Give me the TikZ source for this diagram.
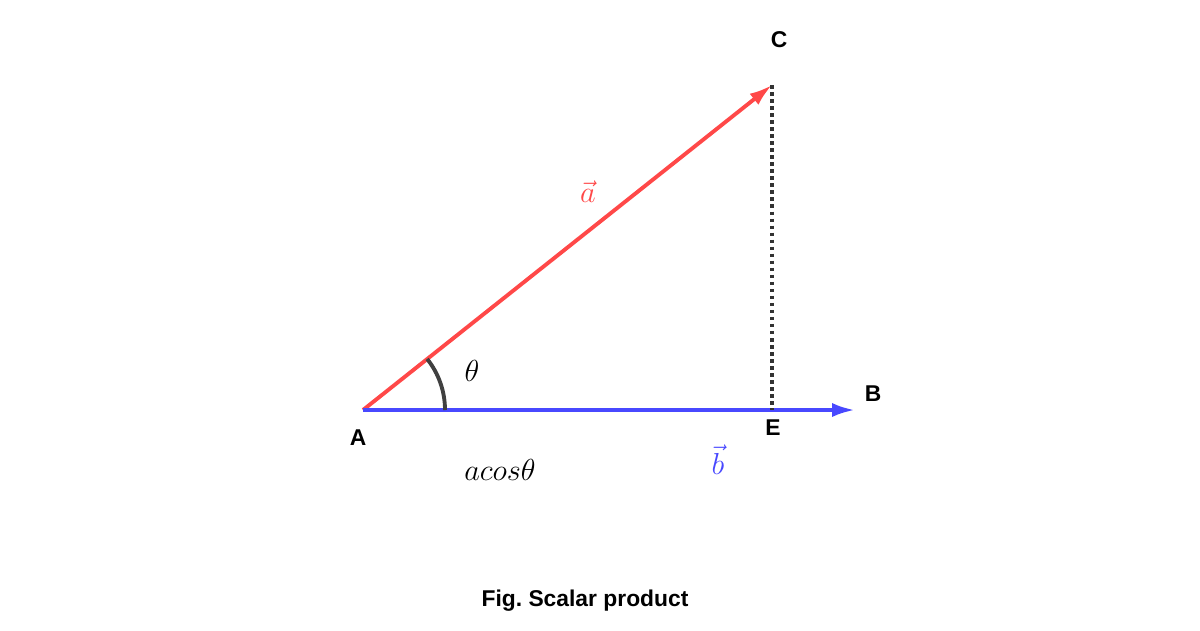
\documentclass[tikz,border=0pt]{standalone}
\usepackage{fontspec}
\setsansfont{Liberation Sans}
\usetikzlibrary{arrows.meta}
\definecolor{vred}{RGB}{255,72,72}
\definecolor{vblue}{RGB}{72,72,255}
\begin{document}
\frenchspacing
\begin{tikzpicture}[x=0.02cm,y=-0.02cm,
  pt/.style={font=\sffamily\bfseries\fontsize{13}{15}\selectfont,inner sep=0pt},
  ml/.style={font=\fontsize{17}{20}\selectfont,inner sep=0pt},
  vec/.style={line width=2.2pt,-{Latex[length=13pt,width=8pt]}}]
\useasboundingbox[fill=white] (0,0) rectangle (1200,630);
\coordinate (A) at (363,410);
\coordinate (C) at (772,85);
\coordinate (E) at (772,410);
\coordinate (B) at (855,410);
\draw[vec,vred] (A) -- (C);
\draw[vec,vblue] (A) -- (B);
\draw[line width=2pt,dotted,black!80] (C) -- (E);
\draw[line width=2.2pt,black!75] ([shift={(82,0)}]A) arc[start angle=0,end angle=38.5,radius=82*0.02cm];
\node[pt] (lC) at (779,40) {C};
\node[pt] (lA) at (358,438) {A};
\node[pt] (lE) at (773,428) {E};
\node[pt] (lB) at (873,394) {B};
\node[ml,vred] (la) at (588,192) {$\vec{a}$};
\node[ml] (lt) at (472,371) {$\theta$};
\node[ml] (lc) at (500,470) {$acos\theta$};
\node[ml,vblue] (lb) at (718,460) {$\vec{b}$};
\node[pt] (cap) at (585,601) {Fig. Scalar product};
\end{tikzpicture}
\end{document}
